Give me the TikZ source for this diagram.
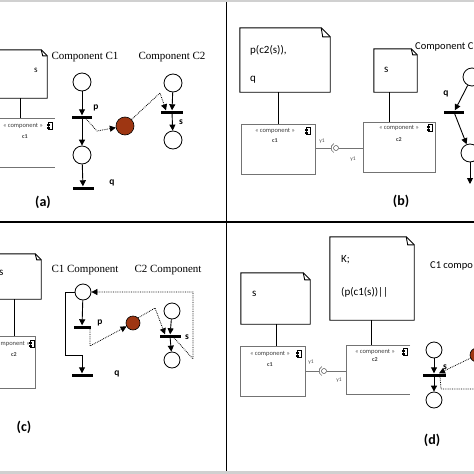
\documentclass[tikz,border=0pt]{standalone}
\usepackage{fontspec}
\setmainfont{Carlito}
\newfontfamily\seriffam{Liberation Serif}
\usetikzlibrary{arrows.meta}
\definecolor{tokenred}{RGB}{158,54,18}
\definecolor{bandgray}{RGB}{208,208,208}
\newcommand\notebox[6]{% name, x1, y1, x2, y2, fold
  \node[inner sep=0pt,minimum width={(#4)-(#2)},minimum height={(#5)-(#3)}] (#1) at ({((#2)+(#4))/2},{((#3)+(#5))/2}) {};
  \draw[noteline] (#1.south west) -- (#1.north west) -- ([xshift=-#6pt]#1.north east) -- ([yshift=-#6pt]#1.north east) -- (#1.south east) -- cycle;
  \draw[noteline] ([xshift=-#6pt]#1.north east) -- ([xshift=-#6pt+1.5pt,yshift=-#6pt]#1.north east) -- ([yshift=-#6pt]#1.north east);
}
\begin{document}
\begin{tikzpicture}[x=1pt,y=-1pt,
  place/.style={circle,draw,line width=0.8pt,minimum size=18pt,inner sep=0pt,fill=white},
  splace/.style={place,minimum size=16pt},
  token/.style={circle,draw,line width=0.6pt,fill=tokenred,minimum size=18pt,inner sep=0pt},
  stoken/.style={token,minimum size=14pt},
  trans/.style={rectangle,fill=black,minimum height=3pt,inner sep=0pt,minimum width=#1},
  trans/.default=20pt,
  arc/.style={-{Triangle[length=6pt,width=6pt]},line width=0.9pt},
  dotarc/.style={densely dotted,line width=0.8pt,-{Triangle[length=6pt,width=6pt]}},
  dotline/.style={densely dotted,line width=0.8pt},
  noteline/.style={line width=0.9pt},
  link/.style={line width=0.9pt},
  compbox/.style={draw=black!55,line width=0.6pt,fill=white,inner sep=0pt},
  compline/.style={draw=black!55,line width=0.6pt},
  stereo/.style={font=\fontsize{6.5}{6.5}\selectfont,text=black!75,inner sep=0pt},
  cname/.style={font=\bfseries\fontsize{6}{6}\selectfont,text=black!75,inner sep=0pt},
  ntext/.style={font=\fontsize{11}{11}\selectfont,anchor=west,inner sep=0pt},
  lbl/.style={font=\bfseries\fontsize{9.5}{9.5}\selectfont,inner sep=0pt},
  ylbl/.style={font=\fontsize{5.5}{5.5}\selectfont,text=black!70,inner sep=0pt},
  stitle/.style={font=\seriffam\fontsize{11}{11}\selectfont,inner sep=0pt},
  atitle/.style={font=\fontsize{10.5}{10.5}\selectfont,anchor=west,inner sep=0pt},
  panel/.style={font=\bfseries\fontsize{14}{14}\selectfont,inner sep=0pt},
  divider/.style={line width=1.5pt,black},
  cicon/.pic={\draw[line width=0.4pt,fill=white] (-2,-3.5) rectangle (2,3.5);
              \draw[line width=0.4pt,fill=white] (-3.2,-2) rectangle (-0.8,-0.8) (-3.2,0.8) rectangle (-0.8,2);}
]
\useasboundingbox (0,0) rectangle (474,474);
\clip (0,0) rectangle (474,474);
\fill[white] (0,0) rectangle (474,474);
% bands and dividers
\fill[bandgray] (0,0) rectangle (474,2);
\fill[bandgray] (0,470.5) rectangle (474,474);
\draw[divider] (226.5,2) -- (226.5,470.5);
\draw[divider] (0,222) -- (474,222);

% ================= panel (a)
\notebox{a-n1}{-5}{50}{47}{98}{6}
\node[lbl,font=\fontsize{9}{9}\selectfont] (a-s) at (36,70) {s};
\coordinate (a-l1) at (20,98);
\coordinate (a-ctop) at (20,118);
\draw[link] (a-l1) -- (a-ctop);
\draw[compline] (0,118) -- (55,118) (0,167) -- (55,167);
\node[stereo] (a-st) at (23,126) {<< component >>};
\pic at (50,126) {cicon};
\node[cname] (a-cn) at (25,137) {c1};
\node[stitle] (a-h1) at (85,57) {Component C1};
\node[stitle] (a-h2) at (172,57) {Component C2};
\node[place] (a-p1) at (82,82) {};
\node[trans=20pt] (a-t1) at (82,117) {};
\node[place] (a-p2) at (82,155) {};
\node[trans=21pt] (a-t2) at (83,188) {};
\node[lbl] (a-lp) at (96,108) {p};
\node[lbl] (a-lq) at (112,183) {q};
\node[token] (a-r) at (125,126) {};
\node[place] (a-p3) at (173,83) {};
\node[trans=22pt] (a-t3) at (172,112) {};
\node[place] (a-p4) at (173,140) {};
\node[lbl] (a-ls) at (181,122) {s};
\draw[arc] (a-p1) -- (a-t1);
\draw[arc] (a-t1) -- (a-p2);
\draw[arc] (a-p2) -- (a-t2);
\draw[arc] (a-p3) -- (a-t3);
\draw[arc] (a-t3) -- (a-p4);
\draw[dotarc] ([xshift=4pt]a-t1.south) -- (97,131) -- (a-r);
\draw[dotarc] (a-r.north east) -- (160,93) -- ([xshift=-6pt]a-t3.north);
\node[panel] (a-lab) at (43,202) {(a)};

% ================= panel (b)
\notebox{b-n1}{240}{28}{330}{92}{9}
\node[ntext] (b-x1) at (250,50) {p(c2(s)),};
\node[ntext] (b-x2) at (250,80) {q};
\node[compbox,minimum width=74pt,minimum height=50pt] (b-c1) at (278,149) {};
\node[stereo] (b-st1) at (275,131) {<< component >>};
\pic at (308,131) {cicon};
\node[cname] (b-cn1) at (275,141) {c1};
\draw[link] (b-c1.north |- b-n1.south) -- (b-c1.north);
\notebox{b-n2}{374}{49}{417}{92}{6}
\node[ntext] (b-x3) at (384,70) {s};
\node[compbox,minimum width=72pt,minimum height=50pt] (b-c2) at (399,147) {};
\node[stereo] (b-st2) at (399,128) {<< component >>};
\pic at (430,128) {cicon};
\node[cname] (b-cn2) at (399,140) {c2};
\coordinate (b-l2) at (389,92);
\draw[link] (b-l2) -- (b-l2 |- b-c2.north);
\node[circle,draw=black!70,line width=0.5pt,minimum size=5pt,inner sep=0pt] (b-ball) at (336,148) {};
\draw[black!70,line width=0.5pt] ([shift={(336,148)}]115:5pt) arc[start angle=115,end angle=245,radius=5pt];
\draw[compline] (b-c1.east |- b-ball) -- (331,148);
\draw[compline] (b-ball) -- (b-c2.west |- b-ball);
\node[ylbl] (b-y1) at (322,141) {y1};
\node[ylbl] (b-y2) at (353,159) {y1};
\node[atitle] (b-h) at (415,47) {Component C};
\node[place] (b-p1) at (472,77) {};
\node[trans=20pt] (b-t1) at (454,112) {};
\node[place] (b-p2) at (470,153) {};
\coordinate (b-end) at (470,184);
\node[lbl] (b-lq) at (446,94) {q};
\draw[arc] (b-p1) -- (b-t1);
\draw[arc] (b-t1) -- (b-p2);
\draw[arc] (b-p2) -- (b-end);
\node[panel] (b-lab) at (401,201) {(b)};

% ================= panel (c)
\notebox{c-n1}{-5}{254}{41}{299}{6}
\node[ntext] (c-x1) at (-1,273) {s};
\coordinate (c-l1) at (14,299);
\coordinate (c-ctop) at (14,336);
\draw[link] (c-l1) -- (c-ctop);
\draw[compline] (0,336) -- (35,336) -- (35,388) -- (0,388);
\node[stereo,anchor=west] (c-st) at (0.5,344) {mponent >>};
\pic at (32,344) {cicon};
\node[cname] (c-cn) at (14,355) {c2};
\node[stitle] (c-h1) at (85,270) {C1 Component};
\node[stitle] (c-h2) at (168,270) {C2 Component};
\node[splace] (c-p1) at (83,292) {};
\node[trans=17pt] (c-t1) at (82,327) {};
\node[trans=21pt] (c-t2) at (82,375) {};
\node[lbl] (c-lp) at (100,323) {p};
\node[lbl] (c-lq) at (117,374) {q};
\node[stoken] (c-r) at (133,323) {};
\node[splace] (c-p3) at (172,311) {};
\node[trans=21pt] (c-t3) at (170,336) {};
\node[splace] (c-p4) at (172,360) {};
\node[lbl] (c-ls) at (187,337) {s};
\draw[arc] (c-p1) -- (c-t1);
\draw[arc] (c-p1.west) -- (65,292) -- (65,355) -- (82,355) -- (c-t2.north);
\draw[arc] (c-p3) -- (c-t3);
\draw[arc] (c-t3) -- (c-p4);
\draw[dotarc] ([xshift=8pt]c-t1.south) -- (90,346) -- (c-r);
\draw[dotarc] (c-r.north east) -- (155,308) -- ([xshift=-5pt]c-t3.north);
\draw[dotarc] ([xshift=4pt]c-t3.south) -- (193,359) -- (193,292) -- (c-p1.east);
\node[panel] (c-lab) at (24,427) {(c)};

% ================= panel (d)
\notebox{d-n1}{241}{273}{310}{324}{7}
\node[ntext] (d-x1) at (252,294) {s};
\node[compbox,minimum width=65pt,minimum height=50pt] (d-c1) at (272.5,371) {};
\node[stereo] (d-st1) at (270,354) {<< component >>};
\pic at (299,354) {cicon};
\node[cname] (d-cn1) at (270,365) {c1};
\coordinate (d-l1) at (276,324);
\draw[link] (d-l1) -- (d-l1 |- d-c1.north);
\notebox{d-n2}{330}{237}{414}{320}{8}
\node[ntext] (d-x2) at (341,260) {K;};
\node[ntext] (d-x3) at (341,292) {(p(c1(s))||};
\coordinate (d-l2) at (371,320);
\coordinate (d-c2top) at (371,345);
\draw[link] (d-l2) -- (d-c2top);
\draw[compline] (410,345) -- (346,345) -- (346,394) -- (410,394);
\node[stereo] (d-st2) at (375,352) {<< component >>};
\pic at (405,352) {cicon};
\node[cname] (d-cn2) at (375,360) {c2};
\node[circle,draw=black!70,line width=0.5pt,minimum size=5pt,inner sep=0pt] (d-ball) at (324,371) {};
\draw[black!70,line width=0.5pt] ([shift={(324,371)}]115:5pt) arc[start angle=115,end angle=245,radius=5pt];
\draw[compline] (d-c1.east |- d-ball) -- (319,371);
\draw[compline] (d-ball) -- (346,371);
\node[ylbl] (d-y1) at (311,362) {y1};
\node[ylbl] (d-y2) at (339,380) {y1};
\node[atitle] (d-h) at (430,266) {C1 compo};
\node[splace] (d-p1) at (434,350) {};
\node[trans=23pt] (d-t1) at (434,375) {};
\node[splace] (d-p2) at (434,400) {};
\node[lbl] (d-ls) at (445,367) {s};
\node[stoken] (d-r) at (477,355) {};
\draw[arc] (d-p1) -- (d-t1);
\draw[arc] (d-t1) -- (d-p2);
\draw[dotarc] (d-r) -- ([xshift=5pt]d-t1.north);
\draw[dotline] ([xshift=6pt]d-t1.south) -- (441,389) -- (480,389);
\node[panel] (d-lab) at (432,440) {(d)};
\end{tikzpicture}
\end{document}
